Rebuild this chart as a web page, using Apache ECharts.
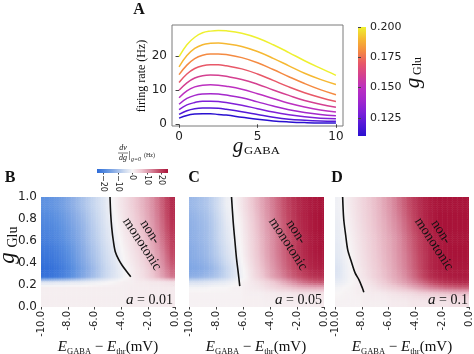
<!DOCTYPE html>
<html><head><meta charset="utf-8">
<script src="https://cdn.jsdelivr.net/npm/echarts@6/dist/echarts.min.js"></script>
<style>html,body{margin:0;padding:0;background:#fff}#c{width:474px;height:354px}</style>
</head><body><div id="c"></div>
<script>
// ---------- Panel A : firing rate vs g_GABA ----------
const gabaX = [0, 0.5, 1, 1.5, 2, 2.5, 3, 4, 5, 6, 7, 8, 9, 10];
const gGluLevels = [0.11, 0.12, 0.13, 0.14, 0.15, 0.16, 0.17, 0.18, 0.19, 0.20];
const rate011 = [1.8, 2.6, 3.0, 3.1, 3.1, 2.9, 2.7, 2.1, 1.5, 1.0, 0.7, 0.5, 0.4, 0.4];
const rate012 = [2.9, 4.0, 4.6, 4.8, 4.8, 4.7, 4.4, 3.7, 2.9, 2.1, 1.5, 1.2, 1.0, 0.9];
const rate013 = [4.3, 5.7, 6.4, 6.8, 6.8, 6.7, 6.4, 5.6, 4.6, 3.6, 2.8, 2.2, 1.8, 1.6];
const rate014 = [5.9, 7.6, 8.5, 8.9, 9.0, 8.9, 8.6, 7.8, 6.6, 5.4, 4.3, 3.5, 2.9, 2.5];
const rate015 = [7.8, 9.8, 11.0, 11.5, 11.6, 11.5, 11.2, 10.3, 9.0, 7.6, 6.2, 5.1, 4.2, 3.6];
const rate016 = [10.0, 12.2, 13.6, 14.3, 14.5, 14.4, 14.1, 13.2, 11.8, 10.1, 8.5, 7.0, 5.9, 5.0];
const rate017 = [12.3, 14.8, 16.4, 17.2, 17.5, 17.5, 17.2, 16.3, 14.8, 12.9, 11.0, 9.3, 7.9, 6.7];
const rate018 = [14.6, 17.4, 19.3, 20.3, 20.7, 20.7, 20.5, 19.6, 18.1, 16.1, 14.0, 12.0, 10.2, 8.7];
const rate019 = [16.9, 20.2, 22.3, 23.4, 23.8, 23.9, 23.7, 22.9, 21.4, 19.4, 17.2, 15.0, 13.2, 11.7];
const rate020 = [19.9, 23.4, 25.6, 26.9, 27.4, 27.6, 27.5, 26.8, 25.4, 23.4, 21.1, 18.7, 16.5, 14.4];
const curveColors = ['#2a10d0', '#5418d8', '#8020d8', '#a428cc', '#bc30c0', '#d44090', '#e85868', '#f48a42', '#f6b832', '#eef030'];
const gabaTicks = [0, 5, 10];
const rateTicks = [0, 10, 20];
const gGluTicks = [0.125, 0.150, 0.175, 0.200];

// ---------- Panels B, C, D : d nu / d g at g=0 ----------
const eEdges = [-10, -9.5, -9, -8.5, -8, -7.5, -7, -6.5, -6, -5.5, -5, -4.5, -4, -3.5, -3, -2.5, -2, -1.5, -1, -0.5, 0];
const gEdges = [1.0, 0.85, 0.7, 0.55, 0.4, 0.3, 0.25, 0.2, 0.15, 0.1, 0.0];
const slopeB = [
  [-18, -17.5, -16.5, -15, -13, -11, -9, -7, -5, -3, -0.5, 1.5, 3, 5, 7, 9, 11.5, 14.5, 18, 22],
  [-19.5, -19, -18, -16.5, -14.5, -12.5, -10.5, -8, -6, -3.5, -1.5, 0.5, 2.5, 4, 6, 8, 10.5, 13.5, 17, 21],
  [-21, -20.5, -19.5, -18, -16, -14, -11.5, -9, -7, -4.5, -2.5, -0.5, 1.5, 3, 5, 7, 9.5, 12.5, 16, 20],
  [-22.5, -22, -21, -19.5, -17.5, -15, -12.5, -10, -8, -5.5, -3.5, -1.5, 0.5, 2, 3.5, 5.5, 8, 10.5, 14, 18.5],
  [-24, -23.5, -22.5, -21, -19, -16.5, -14, -11.5, -9, -6.5, -4.5, -2.5, -0.5, 1, 2.5, 4, 6.5, 9, 12.5, 16],
  [-23, -22.5, -21.5, -20, -18, -15.5, -13, -10.5, -8.5, -6, -4, -2.5, -0.5, 1, 2, 3.5, 5.5, 8, 11, 14],
  [-3.5, -3.5, -3, -3, -2.5, -2.5, -2, -1.5, -1, -0.5, 0, 0.5, 1, 1, 1.5, 1.5, 2, 2, 2.5, 3],
  [1, 1, 1, 1, 1, 1, 1, 1, 1, 1, 1, 1, 1, 1.2, 1.2, 1.2, 1.4, 1.4, 1.5, 1.5],
  [1, 1, 1, 1, 1, 1, 1, 1, 1, 1, 1, 1, 1, 1.2, 1.2, 1.2, 1.4, 1.4, 1.5, 1.5],
  [1, 1, 1, 1, 1, 1, 1, 1, 1, 1, 1, 1, 1, 1.2, 1.2, 1.2, 1.4, 1.4, 1.5, 1.5]
];
const slopeC = [
  [-11, -10, -9, -7, -4.5, -1.5, -0.5, 1.5, 4, 6.5, 9, 11.5, 14, 16.5, 19, 21, 22.5, 23.5, 24, 24.5],
  [-12, -11, -10, -8, -5.5, -2.5, -1, 0.5, 3, 5.5, 8, 10.5, 13, 15.5, 18, 20, 22, 23, 24, 24.5],
  [-12.5, -11.5, -10.5, -8.5, -6, -3.5, -1.5, 0, 2.5, 5, 7.5, 10, 12.5, 15, 17.5, 19.5, 21.5, 23, 24, 24.5],
  [-13, -12, -11, -9, -7, -4.5, -2.5, -0.5, 2, 4.5, 7, 9.5, 12, 14.5, 17, 19, 21, 22.5, 23.5, 24],
  [-14, -13.5, -12.5, -11, -9, -6.5, -4, -1.5, 1, 3.5, 6, 8.5, 11, 13.5, 16, 18, 20, 21.5, 22.5, 23],
  [-12, -11.5, -10.5, -9.5, -8, -6, -3.5, -1.5, 0.5, 3, 5, 7.5, 10, 12, 14.5, 16.5, 18, 19.5, 20.5, 21],
  [-4, -4, -3.5, -3, -2.5, -2, -1, 0, 1, 2, 3, 4.5, 6, 8, 10, 12, 14, 15.5, 16.5, 17],
  [-0.5, -0.5, -0.5, 0, 0, 0, 0.5, 0.5, 1, 1.5, 2, 3, 4, 5, 6, 7, 8, 8.5, 9, 9],
  [0.5, 0.5, 0.5, 0.5, 0.5, 0.5, 0.5, 0.5, 1, 1, 1, 1.5, 1.5, 2, 2, 2.5, 3, 3, 3, 3],
  [0.5, 0.5, 0.5, 0.5, 0.5, 0.5, 0.5, 0.5, 0.8, 0.8, 0.8, 1, 1, 1, 1.2, 1.2, 1.4, 1.4, 1.5, 1.5]
];
const slopeD = [
  [-1, 0.5, 2, 3.5, 5, 6.5, 8, 10, 12, 14.5, 17, 19.5, 21.5, 23, 24, 24.5, 24.5, 24.5, 24.5, 24.5],
  [-1.5, 0, 1.5, 3, 4.5, 6, 7.5, 9, 11, 13, 15.5, 18, 20.5, 22.5, 23.5, 24.5, 24.5, 24.5, 24.5, 24.5],
  [-2, -0.5, 1, 2.5, 4, 5.5, 7, 8.5, 10, 12, 14.5, 17, 19.5, 21.5, 23, 24, 24.5, 24.5, 24.5, 24.5],
  [-2.5, -1, 0.5, 2, 3.5, 5, 6.5, 8, 9.5, 11.5, 13.5, 16, 18.5, 20.5, 22.5, 23.5, 24, 24.5, 24.5, 24.5],
  [-3.5, -1.5, 0, 1.5, 3, 4.5, 6, 7.5, 9, 11, 13, 15.5, 18, 20.5, 22.5, 23.5, 24, 24, 24, 24],
  [-3, -1.5, 0, 1.5, 2.5, 4, 5.5, 7, 8.5, 10, 12, 14.5, 17, 19.5, 21.5, 22.5, 23, 23.5, 23.5, 23.5],
  [-2, -1, 0, 1, 2, 3, 4.5, 6, 7.5, 9, 10.5, 12.5, 14.5, 16.5, 18.5, 20, 21, 21.5, 22, 22],
  [-0.5, 0, 0.5, 1, 1.5, 2, 3, 4, 5, 6, 7, 8.5, 10, 11.5, 13, 14, 15, 15.5, 16, 16],
  [0, 0.5, 0.5, 1, 1, 1.5, 1.5, 2, 2.5, 3, 3.5, 4, 5, 5.5, 6, 6.5, 7, 7.5, 7.5, 7.5],
  [0.5, 0.5, 0.5, 0.5, 1, 1, 1, 1, 1.5, 1.5, 1.5, 2, 2, 2, 2.5, 2.5, 2.5, 3, 3, 3]
];
const boundaryB = [[-4.85, 1.0], [-4.8, 0.85], [-4.72, 0.72], [-4.6, 0.6], [-4.45, 0.5], [-4.2, 0.43], [-3.95, 0.38], [-3.65, 0.33], [-3.3, 0.275]];
const boundaryC = [[-6.85, 1.0], [-6.73, 0.78], [-6.6, 0.6], [-6.48, 0.44], [-6.36, 0.32], [-6.24, 0.19]];
const boundaryD = [[-9.43, 1.0], [-9.35, 0.8], [-9.2, 0.65], [-9.05, 0.52], [-8.8, 0.42], [-8.5, 0.31], [-8.2, 0.245], [-7.95, 0.17], [-7.85, 0.135]];
const eTicks = [-10, -8, -6, -4, -2, 0];
const gTicks = [0, 0.2, 0.4, 0.6, 0.8, 1.0];
const slopeTicks = [-20, -10, 0, 10, 20];
const slopeColors = ['#2e6bd8', '#5a8fe0', '#8fb0e6', '#c8d7ef', '#f7f5f6', '#edc8d2', '#d98ba0', '#c24a66', '#a9143a'];
const slopeMin = -24.5, slopeMax = 24.5;

const SERIF = 'Liberation Serif';
const SANS = 'DejaVu Sans';

function colorOf(v) {
  const tt = Math.min(1, Math.max(0, (v - slopeMin) / (slopeMax - slopeMin)));
  return echarts.color.lerp(tt, slopeColors);
}
function cells(vals) {
  const out = [];
  for (let r = 0; r < vals.length; r++)
    for (let c = 0; c < vals[r].length; c++)
      out.push([eEdges[c], eEdges[c + 1], gEdges[r + 1], gEdges[r], vals[r][c], r, c]);
  return out;
}
// each cell is shaded smoothly between neighbouring cell centres (like gouraud shading)
function makeRender(vals) {
  const nr = vals.length, nc = vals[0].length;
  const val = (r, c) => vals[Math.min(nr - 1, Math.max(0, r))][Math.min(nc - 1, Math.max(0, c))];
  return function (params, api) {
    const r = api.value(5), c = api.value(6);
    const p0 = api.coord([api.value(0), api.value(3)]);
    const p1 = api.coord([api.value(1), api.value(2)]);
    const W = p1[0] - p0[0], H = p1[1] - p0[1];
    const nx = 4, ny = Math.max(2, Math.round(H / 2));
    const children = [];
    for (let i = 0; i < nx; i++) for (let j = 0; j < ny; j++) {
      const u = c + (i + 0.5) / nx - 0.5, w = r + (j + 0.5) / ny - 0.5;
      const c0 = Math.floor(u), r0 = Math.floor(w), du = u - c0, dw = w - r0;
      const v = (1 - du) * (1 - dw) * val(r0, c0) + du * (1 - dw) * val(r0, c0 + 1) +
                (1 - du) * dw * val(r0 + 1, c0) + du * dw * val(r0 + 1, c0 + 1);
      children.push({ type: 'rect', shape: { x: p0[0] + i * W / nx, y: p0[1] + j * H / ny, width: W / nx + 0.5, height: H / ny + 0.5 },
                      style: { fill: colorOf(v) } });
    }
    return { type: 'group', children: children };
  };
}
function stops(cols) { return cols.map((c, i) => ({ offset: i / (cols.length - 1), color: c })); }

const chart = echarts.init(document.getElementById('c'), null, { renderer: 'canvas' });
const tickLab = { color: '#222', fontFamily: SANS };
const heatGrids = [{ left: 41, width: 134 }, { left: 189, width: 135 }, { left: 335, width: 134 }];

const grid = [
  { left: 172, top: 25, width: 171, height: 101, show: true, borderColor: '#7a7a7a', borderWidth: 1, backgroundColor: '#fff' },
  { left: 358, top: 27, width: 8, height: 109, show: true, borderWidth: 0,
    backgroundColor: new echarts.graphic.LinearGradient(0, 1, 0, 0, stops(curveColors)) },
  ...heatGrids.map(g => ({ left: g.left, width: g.width, top: 197, height: 110 })),
  { left: 97, top: 169, width: 71, height: 4, show: true, borderWidth: 0,
    backgroundColor: new echarts.graphic.LinearGradient(0, 0, 1, 0, stops(slopeColors)) }
];

const xAxis = [
  { gridIndex: 0, type: 'value', min: -0.45, max: 10.45, splitLine: { show: false }, axisLine: { show: false },
    axisTick: { customValues: gabaTicks, length: 3.5, lineStyle: { color: '#444' } },
    axisLabel: { customValues: gabaTicks, fontSize: 12, margin: 5, ...tickLab } },
  { gridIndex: 1, type: 'value', min: 0, max: 1, show: false },
  ...[0, 1, 2].map(i => ({ gridIndex: 2 + i, type: 'value', min: -10, max: 0, splitLine: { show: false },
    axisLine: { show: false },
    axisTick: { customValues: eTicks, length: 2.5, lineStyle: { color: '#444' } },
    axisLabel: { customValues: eTicks, rotate: 90, fontSize: 10, margin: 4, formatter: v => v.toFixed(1), ...tickLab } })),
  { gridIndex: 5, type: 'value', min: slopeMin, max: slopeMax, splitLine: { show: false }, axisLine: { show: false },
    axisTick: { customValues: slopeTicks, length: 1.5, lineStyle: { color: '#444' } },
    axisLabel: { customValues: slopeTicks, rotate: -90, fontSize: 8, margin: 2,
      formatter: v => (v < 0 ? '\u2212' : '') + Math.abs(v), ...tickLab } }
];
const yAxis = [
  { gridIndex: 0, type: 'value', min: -0.5, max: 29.2, splitLine: { show: false }, axisLine: { show: false },
    axisTick: { customValues: rateTicks, length: 3.5, lineStyle: { color: '#444' } },
    axisLabel: { customValues: rateTicks, fontSize: 12, margin: 5, ...tickLab } },
  { gridIndex: 1, type: 'value', position: 'right', min: 0.11, max: 0.2, splitLine: { show: false }, axisLine: { show: false },
    axisTick: { customValues: gGluTicks, length: 3, lineStyle: { color: '#444' } },
    axisLabel: { customValues: gGluTicks, fontSize: 11, margin: 4, formatter: v => v.toFixed(3), ...tickLab } },
  ...[0, 1, 2].map(i => ({ gridIndex: 2 + i, type: 'value', min: 0, max: 1, splitLine: { show: false },
    axisLine: { show: false },
    axisTick: { customValues: gTicks, length: 2.5, lineStyle: { color: '#444' } },
    axisLabel: { show: i === 0, customValues: gTicks, fontSize: 12, margin: 4, formatter: v => v.toFixed(1), ...tickLab } })),
  { gridIndex: 5, type: 'value', min: 0, max: 1, show: false }
];

const rates = [rate011, rate012, rate013, rate014, rate015, rate016, rate017, rate018, rate019, rate020];
const series = [];
rates.forEach((r, i) => series.push({
  type: 'line', xAxisIndex: 0, yAxisIndex: 0, name: 'g=' + gGluLevels[i], smooth: 0.4, showSymbol: false, symbol: 'none',
  lineStyle: { width: 1.5, color: curveColors[i] }, itemStyle: { color: curveColors[i] }, silent: true,
  data: gabaX.map((x, k) => [x, r[k]])
}));
[slopeB, slopeC, slopeD].forEach((v, i) => series.push({
  type: 'custom', xAxisIndex: 2 + i, yAxisIndex: 2 + i, renderItem: makeRender(v), clip: true, silent: true,
  dimensions: ['e0', 'e1', 'g0', 'g1', 'slope', 'row', 'col'], encode: { x: [0, 1], y: [2, 3] }, data: cells(v)
}));
[boundaryB, boundaryC, boundaryD].forEach((b, i) => series.push({
  type: 'line', xAxisIndex: 2 + i, yAxisIndex: 2 + i, smooth: 0.3, showSymbol: false, symbol: 'none', silent: true,
  lineStyle: { width: 1.6, color: '#111' }, data: b, z: 5
}));

function t(x, y, text, font, extra) {
  return Object.assign({ type: 'text', x: x, y: y, silent: true, z: 100,
    style: { text: text, font: font, fill: '#111', align: 'center', verticalAlign: 'middle' } }, extra || {});
}
const R90 = Math.PI / 2;
const rotNM = -57 * Math.PI / 180;
const graphic = [
  t(139, 10, 'A', 'bold 16px ' + SERIF),
  t(10, 178, 'B', 'bold 16px ' + SERIF),
  t(194, 178, 'C', 'bold 16px ' + SERIF),
  t(337, 178, 'D', 'bold 16px ' + SERIF),
  t(142, 76, 'firing rate (Hz)', '12px ' + SERIF, { rotation: R90 }),
  t(238, 146, 'g', 'italic 21px ' + SERIF),
  { type: 'text', x: 244, y: 151, silent: true, z: 100, style: { text: 'GABA', font: '11px ' + SERIF, fill: '#111', align: 'left', verticalAlign: 'middle' }, scaleX: 1.15 },
  t(413, 83, 'g', 'italic 21px ' + SERIF, { rotation: R90 }),
  t(418, 66, 'Glu', '12px ' + SERIF, { rotation: R90 }),
  t(8, 258, 'g', 'italic 23px ' + SERIF, { rotation: R90 }),
  t(13, 237, 'Glu', '14px ' + SERIF, { rotation: R90 }),
  t(123, 148, 'd\u03bd', 'italic 8px ' + SERIF),
  { type: 'line', silent: true, z: 100, shape: { x1: 118, y1: 153, x2: 128, y2: 153 }, style: { stroke: '#222', lineWidth: 0.6 } },
  t(123, 158, 'dg', 'italic 8px ' + SERIF),
  t(129.5, 155, '|', '10px ' + SERIF),
  { type: 'text', x: 131, y: 159, silent: true, z: 100, style: { text: 'g=0', font: 'italic 6px ' + SERIF, fill: '#222', align: 'left', verticalAlign: 'middle' } },
  { type: 'text', x: 144, y: 155, silent: true, z: 100, style: { text: '(Hz)', font: '6px ' + SERIF, fill: '#222', align: 'left', verticalAlign: 'middle' } },
  t(150, 232, 'non-', '14px ' + SERIF, { rotation: rotNM }),
  t(142, 244, 'monotonic', '14px ' + SERIF, { rotation: rotNM }),
  t(296, 232, 'non-', '14px ' + SERIF, { rotation: rotNM }),
  t(288, 244, 'monotonic', '14px ' + SERIF, { rotation: rotNM }),
  t(441, 232, 'non-', '14px ' + SERIF, { rotation: rotNM }),
  t(434, 244, 'monotonic', '14px ' + SERIF, { rotation: rotNM })
];
const aLabels = [['0.01', 173], ['0.05', 322], ['0.1', 468]];
aLabels.forEach(a => graphic.push({
  type: 'text', x: a[1], y: 300, silent: true, z: 100,
  style: { text: '{i|a} = ' + a[0], font: '14px ' + SERIF, fill: '#111', align: 'right', verticalAlign: 'middle',
    rich: { i: { fontStyle: 'italic', fontFamily: SERIF, fontSize: 15 } } }
}));
[108, 256, 402].forEach(cx => graphic.push({
  type: 'text', x: cx, y: 347, silent: true, z: 100,
  style: { text: '{i|E}{s|GABA}{n| \u2212 }{i|E}{s|thr}{n|(mV)}', fill: '#111', align: 'center', verticalAlign: 'middle',
    rich: {
      i: { fontFamily: SERIF, fontStyle: 'italic', fontSize: 15, lineHeight: 18 },
      n: { fontFamily: SERIF, fontSize: 15, lineHeight: 18 },
      s: { fontFamily: SERIF, fontSize: 8.5, lineHeight: 9, verticalAlign: 'bottom' }
    } }
}));

chart.setOption({
  animation: false,
  backgroundColor: '#fff',
  grid: grid, xAxis: xAxis, yAxis: yAxis,
  series: series,
  graphic: graphic
});
</script></body></html>
